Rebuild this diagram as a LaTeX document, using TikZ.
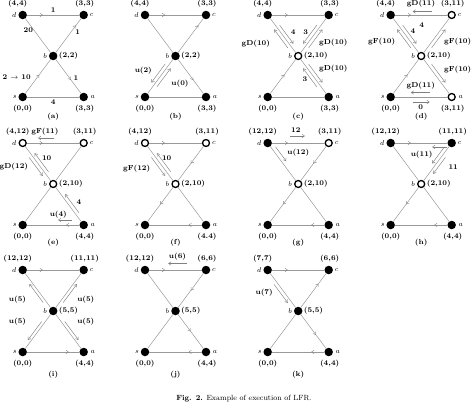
\documentclass[tikz,border=0pt]{standalone}
\usetikzlibrary{calc,arrows.meta,decorations.markings}

\tikzset{
  vtx/.style={circle, fill=black, minimum size=8.5pt, inner sep=0pt},
  hollow/.style={fill=white, draw=black, line width=1.3pt, minimum size=7pt},
  dst/.style={}, cst/.style={}, bst/.style={}, sst/.style={}, ast/.style={},
  edge/.style={draw=gray!80, line width=0.5pt},
  txt/.style={font=\fontsize{7.2}{8}\selectfont\bfseries, inner sep=0.5pt},
  vname/.style={font=\fontsize{7.5}{8}\selectfont, inner sep=0.5pt},
  flow/.style={postaction={decorate, decoration={markings,
      mark=at position #1 with {\arrow[gray]{Straight Barb[length=2.5pt,width=3.5pt]}}}}},
  msgline/.style={draw=gray, line width=0.45pt, -{Straight Barb[length=2.5pt,width=3.5pt]}},
}

% the X shaped network: labels of d, c, b, s, a
\newcommand{\xgraph}[5]{%
  \node[vtx, dst] (d) at (0,0) {};
  \node[vtx, cst] (c) at (61,0) {};
  \node[vtx, bst] (b) at (30.5,41) {};
  \node[vtx, sst] (s) at (0,82) {};
  \node[vtx, ast] (a) at (61,82) {};
  \draw[edge] (d) -- (c);
  \draw[edge] (s) -- (a);
  \draw[edge] (d) -- (b);
  \draw[edge] (b) -- (a);
  \draw[edge] (s) -- (b);
  \draw[edge] (b) -- (c);
  \node[vname] (dn) at (-8.5,0) {$d$};
  \node[vname] (cn) at (69,0) {$c$};
  \node[vname] (bn) at (22.5,41) {$b$};
  \node[vname] (sn) at (-8,82) {$s$};
  \node[vname] (an) at (70,82) {$a$};
  \node[txt] (dl) at (-5,-11.5) {#1};
  \node[txt] (cl) at (62,-11.5) {#2};
  \node[txt, anchor=west] (bl) at (35.5,41) {#3};
  \node[txt] (sl) at (0,94) {#4};
  \node[txt] (al) at (62,94) {#5};
}
% message along an edge: from, to, start, end, side shift
\newcommand{\msg}[5]{%
  \draw[msgline] ($(#1)!#3!(#2)!#5!90:(#2)$) -- ($(#1)!#4!(#2)!#5!90:(#2)$);
}

\begin{document}
\begin{tikzpicture}[x=1pt, y=-1pt]
\useasboundingbox (0,0) rectangle (474,404);

% (a)
\begin{scope}[shift={(22.7,15)}, name prefix=A-]
\xgraph{(4,4)}{(3,3)}{(2,2)}{(0,0)}{(3,3)}
\path[flow=0.3] (d) -- (c);
\path[flow=0.55] (s) -- (b);
\path[flow=0.8] (b) -- (c);
\path[flow=0.6] (b) -- (a);
\node[txt] (w1) at (30.6,-5) {1};
\node[txt] (w2) at (5.6,15) {20};
\node[txt] (w3) at (55,16.7) {1};
\node[txt] (w4) at (-6,62.3) {2 $\rightarrow$ 10};
\node[txt] (w5) at (53.3,63.3) {1};
\node[txt] (w6) at (30.6,86.7) {4};
\node[txt] (tag) at (30.5,102) {(a)};
\end{scope}

% (b)
\begin{scope}[shift={(145,15)}, name prefix=B-]
\xgraph{(4,4)}{(3,3)}{(2,2)}{(0,0)}{(3,3)}
\path[flow=0.3] (d) -- (c);
\path[flow=0.8] (b) -- (c);
\path[flow=0.6] (b) -- (a);
\msg{b}{s}{0.25}{0.7}{-3.5pt}
\msg{s}{b}{0.3}{0.75}{-3.5pt}
\node[txt] (m1) at (-1.7,56) {u(2)};
\node[txt] (m2) at (35,68.3) {u(0)};
\node[txt] (tag) at (30.5,102) {(b)};
\end{scope}

% (c)
\begin{scope}[shift={(267.7,15)}, name prefix=C-, bst/.style=hollow]
\xgraph{(4,4)}{(3,3)}{(2,10)}{(0,0)}{(3,3)}
\path[flow=0.3] (d) -- (c);
\path[flow=0.55] (s) -- (b);
\msg{b}{d}{0.25}{0.7}{3.5pt}
\msg{d}{b}{0.3}{0.75}{3.5pt}
\msg{c}{b}{0.3}{0.75}{-3.5pt}
\msg{b}{c}{0.25}{0.7}{-3.5pt}
\msg{b}{a}{0.25}{0.7}{3.5pt}
\msg{a}{b}{0.3}{0.75}{3.5pt}
\node[txt] (m1) at (-11.9,28.3) {gD(10)};
\node[txt] (m2) at (25.6,17.3) {4};
\node[txt] (m3) at (38,17.3) {3};
\node[txt] (m4) at (65.6,27.7) {gD(10)};
\node[txt] (m5) at (65.6,53.3) {gD(10)};
\node[txt] (m6) at (37.3,64) {3};
\node[txt] (tag) at (30.5,102) {(c)};
\end{scope}

% (d)
\begin{scope}[shift={(390.7,15)}, name prefix=D-, cst/.style=hollow, bst/.style=hollow, ast/.style=hollow]
\xgraph{(4,4)}{(3,11)}{(2,10)}{(0,0)}{(3,11)}
\path[flow=0.3] (d) -- (c);
\path[flow=0.55] (s) -- (b);
\msg{c}{d}{0.33}{0.64}{-3.5pt}
\msg{b}{d}{0.25}{0.7}{3.5pt}
\msg{d}{b}{0.3}{0.75}{3.5pt}
\msg{b}{c}{0.25}{0.7}{-3.5pt}
\msg{b}{a}{0.25}{0.7}{3.5pt}
\msg{a}{s}{0.36}{0.67}{-4.5pt}
\msg{s}{a}{0.36}{0.64}{-5pt}
\node[txt] (m1) at (30.3,-11.5) {gD(11)};
\node[txt] (m2) at (31,10) {4};
\node[txt] (m3) at (22.3,16) {4};
\node[txt] (m4) at (-9,26.7) {gF(10)};
\node[txt] (m5) at (67,26.7) {gF(10)};
\node[txt] (m6) at (67,55) {gF(10)};
\node[txt] (m7) at (30.1,71) {gD(11)};
\node[txt] (m8) at (30,92.3) {0};
\node[txt] (tag) at (30.5,102) {(d)};
\end{scope}

% (e)
\begin{scope}[shift={(22.7,143)}, name prefix=E-, dst/.style=hollow, cst/.style=hollow, bst/.style=hollow]
\xgraph{(4,12)}{(3,11)}{(2,10)}{(0,0)}{(4,4)}
\path[flow=0.3] (d) -- (c);
\path[flow=0.25] (a) -- (s);
\msg{c}{d}{0.48}{0.75}{-5pt}
\msg{b}{d}{0.25}{0.7}{-3.5pt}
\msg{d}{b}{0.3}{0.75}{-3.5pt}
\msg{a}{b}{0.25}{0.7}{-3.5pt}
\msg{a}{s}{0.2}{0.42}{-5pt}
\node[txt] (m1) at (22.3,-11.5) {gF(11)};
\node[txt] (m2) at (24,15.3) {10};
\node[txt] (m3) at (-8.8,23.7) {gD(12)};
\node[txt] (m4) at (56.3,58.7) {4};
\node[txt] (m5) at (35.6,71.3) {u(4)};
\node[txt] (tag) at (30.5,100) {(e)};
\end{scope}

% (f)
\begin{scope}[shift={(145,143)}, name prefix=F-, dst/.style=hollow, cst/.style=hollow, bst/.style=hollow]
\xgraph{(4,12)}{(3,11)}{(2,10)}{(0,0)}{(4.4)}
\path[flow=0.3] (d) -- (c);
\path[flow=0.5] (c) -- (b);
\path[flow=0.5] (b) -- (s);
\path[flow=0.25] (a) -- (s);
\msg{b}{d}{0.25}{0.7}{-3.5pt}
\msg{d}{b}{0.3}{0.75}{-3.5pt}
\node[txt] (m1) at (21.7,15.3) {10};
\node[txt] (m2) at (-8.3,25.3) {gF(12)};
\node[txt] (tag) at (30.5,100) {(f)};
\end{scope}

% (g)
\begin{scope}[shift={(267.7,143)}, name prefix=G-, cst/.style=hollow, bst/.style=hollow]
\xgraph{(12,12)}{(3,11)}{(2,10)}{(0,0)}{(4,4)}
\path[flow=0.3] (d) -- (c);
\path[flow=0.5] (c) -- (b);
\path[flow=0.5] (b) -- (s);
\path[flow=0.25] (a) -- (s);
\msg{d}{c}{0.37}{0.61}{7pt}
\msg{d}{b}{0.15}{0.5}{4pt}
\node[txt] (m1) at (28.1,-13) {12};
\node[txt] (m2) at (30.6,9.3) {u(12)};
\node[txt] (tag) at (30.5,100) {(g)};
\end{scope}

% (h)
\begin{scope}[shift={(390.7,143)}, name prefix=H-, bst/.style=hollow]
\xgraph{(12,12)}{(11,11)}{(2,10)}{(0,0)}{(4,4)}
\path[flow=0.3] (d) -- (c);
\path[flow=0.5] (b) -- (s);
\path[flow=0.25] (a) -- (s);
\msg{c}{d}{0.08}{0.32}{4pt}
\msg{c}{b}{0.15}{0.55}{-3.5pt}
\msg{c}{b}{0.3}{0.7}{3.5pt}
\node[txt] (m1) at (31,11.3) {u(11)};
\node[txt] (m2) at (62.5,23.7) {11};
\node[txt] (tag) at (30.5,100) {(h)};
\end{scope}

% (i)
\begin{scope}[shift={(22.7,270)}, name prefix=I-]
\xgraph{(12,12)}{(11,11)}{(5,5)}{(0,0)}{(4,4)}
\path[flow=0.3] (d) -- (c);
\path[flow=0.8] (s) -- (a);
\msg{b}{d}{0.25}{0.7}{3pt}
\msg{b}{c}{0.25}{0.7}{-3pt}
\msg{b}{s}{0.3}{0.75}{-3pt}
\msg{b}{a}{0.3}{0.75}{3pt}
\node[txt] (m1) at (-5.2,29.3) {u(5)};
\node[txt] (m2) at (63.1,29.3) {u(5)};
\node[txt] (m3) at (-5.2,51.7) {u(5)};
\node[txt] (m4) at (63.1,51.7) {u(5)};
\node[txt] (tag) at (30.5,105) {(i)};
\end{scope}

% (j)
\begin{scope}[shift={(145,270)}, name prefix=J-]
\xgraph{(12,12)}{(6,6)}{(5,5)}{(0,0)}{(4,4)}
\path[flow=0.3] (d) -- (c);
\path[flow=0.5] (c) -- (b);
\path[flow=0.5] (b) -- (a);
\path[flow=0.25] (a) -- (s);
\msg{c}{d}{0.31}{0.62}{-6.5pt}
\node[txt] (m1) at (32.5,-13.5) {u(6)};
\node[txt] (tag) at (30.5,105) {(j)};
\end{scope}

% (k)
\begin{scope}[shift={(267.7,270)}, name prefix=K-]
\xgraph{(7,7)}{(6,6)}{(5,5)}{(0,0)}{(4,4)}
\path[flow=0.3] (d) -- (c);
\path[flow=0.7] (b) -- (c);
\path[flow=0.6] (b) -- (a);
\path[flow=0.25] (a) -- (s);
\msg{d}{b}{0.3}{0.75}{-3.5pt}
\node[txt] (m1) at (-3.5,22.7) {u(7)};
\node[txt] (tag) at (30.5,105) {(k)};
\end{scope}

\node[font=\fontsize{7.5}{8}\selectfont, inner sep=0pt] (fig) at (244,398.5) {\textbf{Fig. 2.} Example of execution of LFR.};
\end{tikzpicture}
\end{document}
